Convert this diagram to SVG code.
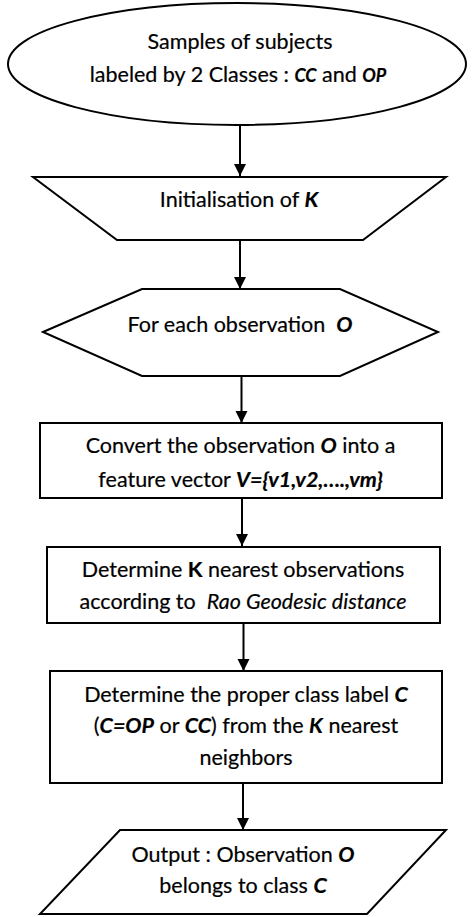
<svg xmlns="http://www.w3.org/2000/svg" width="474" height="917" viewBox="0 0 474 917">
<style>
.s{fill:#fff;stroke:#000;stroke-width:2}
text{font-family:Lato,"Open Sans","Liberation Sans",sans-serif;font-size:21.5px;fill:#000;stroke:#000;stroke-width:0.2;text-anchor:middle;white-space:pre}
.bi{font-weight:bold;font-style:italic}
.b{font-weight:bold}
.i{font-style:italic}
.c{stroke:#000;stroke-width:2;fill:none}
</style>
<defs>
<marker id="ah" markerUnits="userSpaceOnUse" markerWidth="12" markerHeight="13" refX="12" refY="6" orient="auto">
<path d="M0,0 L12,6 L0,12 Z" fill="#000"/>
</marker>
</defs>
<rect width="474" height="917" fill="#fff"/>
<g id="connectors">
<line class="c" x1="240" y1="126" x2="240" y2="176" marker-end="url(#ah)"/>
<line class="c" x1="240" y1="240" x2="240" y2="289" marker-end="url(#ah)"/>
<line class="c" x1="241.5" y1="376" x2="241.5" y2="423" marker-end="url(#ah)"/>
<line class="c" x1="242" y1="498" x2="242" y2="546" marker-end="url(#ah)"/>
<line class="c" x1="243.5" y1="623" x2="243.5" y2="671" marker-end="url(#ah)"/>
<line class="c" x1="243" y1="783" x2="243" y2="830" marker-end="url(#ah)"/>
</g>
<g id="start">
<ellipse class="s" cx="237" cy="64" rx="229" ry="61"/>
<text x="240" y="49">Samples of subjects</text>
<text x="238" y="82">labeled by 2 Classes : <tspan class="bi" font-size="18">CC</tspan> and <tspan class="bi" font-size="18">OP</tspan></text>
</g>
<g id="init">
<polygon class="s" points="33,177 446,177 363,240 117,240"/>
<text x="239" y="207">Initialisation of <tspan class="bi">K</tspan></text>
</g>
<g id="loop">
<polygon class="s" points="43,332 142,289 340,289 438,332 340,376 142,376"/>
<text x="240" y="332">For each observation  <tspan class="bi">O</tspan></text>
</g>
<g id="convert">
<rect class="s" x="40" y="423" width="402" height="75"/>
<text x="240.5" y="453">Convert the observation <tspan class="bi">O</tspan> into a</text>
<text x="240.5" y="487">feature vector <tspan class="bi">V={v1,v2,….,vm}</tspan></text>
</g>
<g id="nearest">
<rect class="s" x="47" y="547" width="393" height="76"/>
<text x="243" y="577">Determine <tspan class="b">K</tspan> nearest observations</text>
<text x="243" y="609">according to  <tspan class="i">Rao Geodesic distance</tspan></text>
</g>
<g id="classify">
<rect class="s" x="50" y="671" width="392" height="112"/>
<text x="246" y="702">Determine the proper class label <tspan class="bi">C</tspan></text>
<text x="246" y="733">(<tspan class="bi">C=OP</tspan> or <tspan class="bi">CC</tspan>) from the <tspan class="bi">K</tspan> nearest</text>
<text x="246" y="765">neighbors</text>
</g>
<g id="output">
<polygon class="s" points="120,830 446,830 367,914 40,914"/>
<text x="243" y="862">Output : Observation <tspan class="bi">O</tspan></text>
<text x="243" y="893">belongs to class <tspan class="bi">C</tspan></text>
</g>
</svg>
